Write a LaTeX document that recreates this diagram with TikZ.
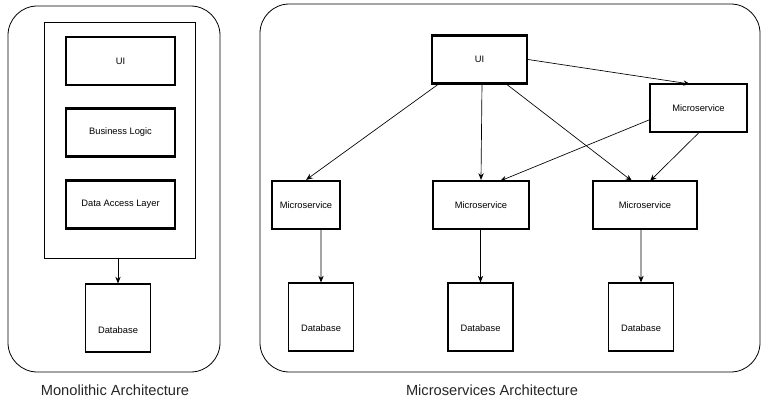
\documentclass[tikz,border=0pt]{standalone}
\usepackage{fontspec}
\setmainfont{Liberation Sans}
\usetikzlibrary{shapes.geometric,arrows.meta}
\begin{document}
\begin{tikzpicture}[x=0.75pt,y=-0.75pt,
  box/.style={draw,line width=1.6pt,minimum width=#1,minimum height=48*0.75pt,font=\fontsize{7}{8}\selectfont,inner sep=0pt},
  db/.style={draw,line width=1.1pt,cylinder,shape border rotate=90,aspect=0.35,minimum width=65*0.75pt,minimum height=68*0.75pt,inner sep=0pt},
  dblbl/.style={font=\fontsize{7}{8}\selectfont},
  arr/.style={-{Stealth[length=5pt,width=4pt]},line width=0.5pt},
  cont/.style={draw,line width=0.6pt,rounded corners=22pt},
  captxt/.style={font=\fontsize{11}{13}\selectfont,text=black!85}]
\useasboundingbox (0,0) rectangle (768,403);
\draw[cont] (8,6) rectangle (220,372);
\draw[cont] (260,4) rectangle (760,372);
\node[draw,line width=0.6pt,minimum width=151*0.75pt,minimum height=236*0.75pt] (inner) at (119.5,140) {};
\node[box=109*0.75pt] (mui) at (120.5,61) {UI};
\node[box=109*0.75pt] (mbl) at (120.5,132.5) {Business Logic};
\node[box=109*0.75pt] (mda) at (120.5,204.5) {Data Access Layer};
\node[db] (mdb) at (118,318.5) {};
\node[dblbl] (mdbl) at (118,330) {Database};
\draw[arr] (inner.south -| mdb.north) -- (mdb.north);
\node[box=95*0.75pt] (ui) at (479.5,59.5) {UI};
\node[box=97*0.75pt] (ms4) at (698.5,108) {Microservice};
\node[box=68*0.75pt] (ms1) at (306,205) {Microservice};
\node[box=96*0.75pt] (ms2) at (481,205) {Microservice};
\node[box=104*0.75pt] (ms3) at (645,205) {Microservice};
\node[db] (d1) at (321,317.5) {};
\node[db] (d2) at (480.5,317.5) {};
\node[db] (d3) at (641,317.5) {};
\node[dblbl] (d1l) at (321,328) {Database};
\node[dblbl] (d2l) at (480.5,328) {Database};
\node[dblbl] (d3l) at (641,328) {Database};
\draw[arr] (440,83) -- (ms1.north);
\draw[arr] (482,83) -- (ms2.north);
\draw[arr] (505,83) -- (632,181);
\draw[arr] (ui.east) -- (690,84);
\draw[arr] (ms4.west |- 0,120) -- (500,181);
\draw[arr] (ms4.south) -- (650,181);
\draw[arr] (ms1.south -| d1) -- (d1.north);
\draw[arr] (ms2.south -| d2) -- (d2.north);
\draw[arr] (ms3.south -| d3) -- (d3.north);
\node[captxt] (l1) at (115,390) {Monolithic Architecture};
\node[captxt] (l2) at (492,390) {Microservices Architecture};
\end{tikzpicture}
\end{document}
